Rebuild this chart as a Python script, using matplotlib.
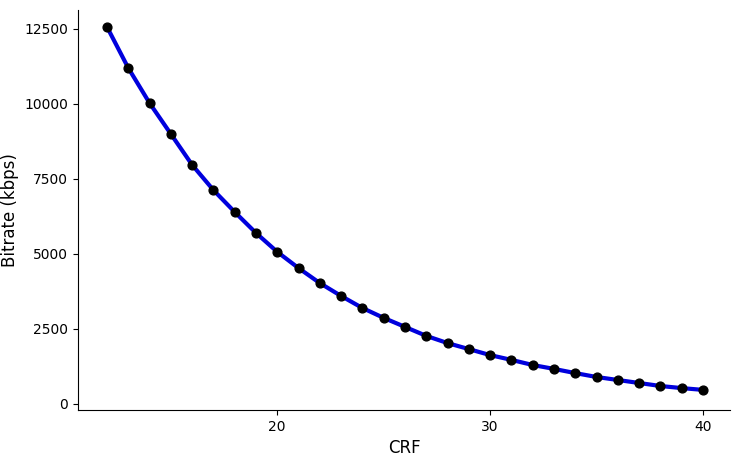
import matplotlib
matplotlib.use("Agg")
import matplotlib.pyplot as plt

crf = list(range(12, 41))
bitrate = [12570, 11200, 10030, 9000, 7970, 7130, 6400, 5700, 5070, 4530, 4030, 3600,
           3200, 2870, 2570, 2270, 2030, 1830, 1630, 1470, 1300, 1170, 1030, 900, 800,
           700, 600, 530, 470]

fig = plt.figure(figsize=(7.4, 4.59), dpi=100)
ax = fig.add_axes([78/740, 49/459, 652/740, 400/459])
ax.plot(crf, bitrate, color="#0000dd", lw=3, zorder=2)
ax.scatter(crf, bitrate, color="black", s=40, zorder=3)
ax.set_xlim(10.64, 41.27)
ax.set_ylim(-200, 13130)
ax.set_xticks([20, 30, 40])
ax.set_yticks([0, 2500, 5000, 7500, 10000, 12500])
for s in ["top", "right"]:
    ax.spines[s].set_visible(False)
ax.tick_params(labelsize=10, colors="black")
ax.set_xlabel("CRF", fontsize=12)
ax.set_ylabel("Bitrate (kbps)", fontsize=12)
fig.savefig("out.png", dpi=100)
